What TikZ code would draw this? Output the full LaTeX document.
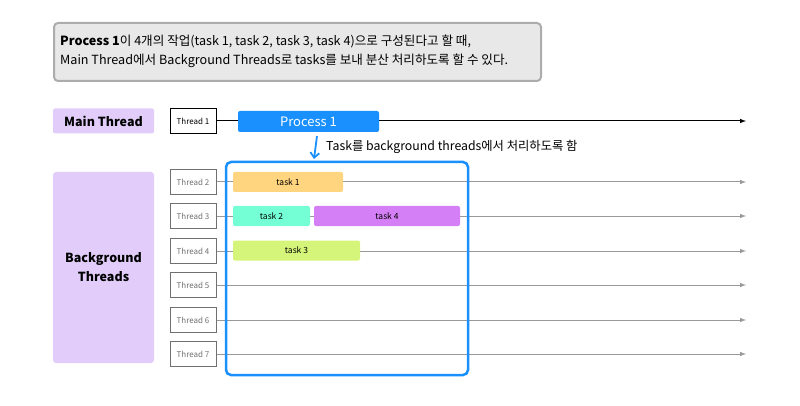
\documentclass[tikz,border=0pt]{standalone}
\usepackage{fontspec}
\setmainfont{Noto Sans CJK KR}
\usetikzlibrary{arrows.meta}
\begin{document}
\begin{tikzpicture}[x=1pt,y=-1pt,
 thr/.style={draw=#1,line width=1pt,minimum width=46pt,minimum height=25pt,inner sep=0,font=\fontsize{8}{9}\selectfont,text=#1},
 task/.style={rounded corners=2pt,fill=#1,inner sep=0,font=\fontsize{8.5}{9}\selectfont},
 tl/.style={draw=gray!80,line width=1pt,-latex}]
\useasboundingbox (0,0) rectangle (800,406);
\definecolor{lav}{HTML}{E2CDFA}
\definecolor{pblue}{HTML}{1A90FF}
\definecolor{tg}{HTML}{707070}
\node[draw=gray!65,line width=2pt,fill=gray!18,rounded corners=4pt,minimum width=487pt,minimum height=58pt,anchor=north west] (info) at (53,22) {};
\node[anchor=west,align=left,font=\fontsize{12.6}{19}\selectfont,inner sep=0] (infot) at (60,51) {\textbf{Process 1}이 4개의 작업(task 1, task 2, task 3, task 4)으로 구성된다고 할 때,\\Main Thread에서 Background Threads로 tasks를 보내 분산 처리하도록 할 수 있다.};
\node[fill=lav,rounded corners=2pt,minimum width=101pt,minimum height=25pt,font=\bfseries\fontsize{12.5}{14}\selectfont] (mt) at (103.5,121) {Main Thread};
\node[fill=lav,rounded corners=3pt,minimum width=101pt,minimum height=191pt,align=center,font=\bfseries\fontsize{12.5}{19}\selectfont] (bt) at (103.5,267.5) {Background\\Threads};
\node[thr=black] (t1) at (193,121) {Thread 1};
\coordinate (e1) at (746,121);
\draw[line width=1pt,-latex] (t1) -- (e1);
\node[fill=pblue,rounded corners=2pt,minimum width=141pt,minimum height=21pt,text=white,font=\fontsize{13}{14}\selectfont] (p1) at (308.5,121.5) {Process 1};
\foreach \i/\y in {2/182,3/216,4/251,5/285,6/320,7/354}{
 \node[thr=tg] (t\i) at (193,\y) {Thread \i};
 \coordinate (e\i) at (746,\y);
 \draw[tl] (t\i) -- (e\i);
}
\definecolor{c1}{HTML}{FFD57F}\definecolor{c2}{HTML}{74FFD4}\definecolor{c4}{HTML}{D47FF5}\definecolor{c3}{HTML}{D5F57A}
\node[task=c1,minimum width=110pt,minimum height=20pt] (k1) at (288,182) {task 1};
\node[task=c2,minimum width=77pt,minimum height=20pt] (k2) at (271.5,216) {task 2};
\node[task=c4,minimum width=146pt,minimum height=20pt] (k4) at (387,216) {task 4};
\node[task=c3,minimum width=127pt,minimum height=20pt] (k3) at (296.5,250.5) {task 3};
\node[draw=pblue,line width=2.5pt,rounded corners=5pt,minimum width=242pt,minimum height=213pt] (bx) at (347,268.5) {};
\coordinate (a0) at (317,136);
\coordinate (a1) at (314,159);
\draw[pblue,line width=1.8pt,-{Straight Barb[length=5pt,width=9pt]}] (a0) -- (a1);
\node[anchor=west,inner sep=0,font=\fontsize{12.3}{13}\selectfont] (lab) at (326,147) {Task를 background threads에서 처리하도록 함};
\end{tikzpicture}
\end{document}
